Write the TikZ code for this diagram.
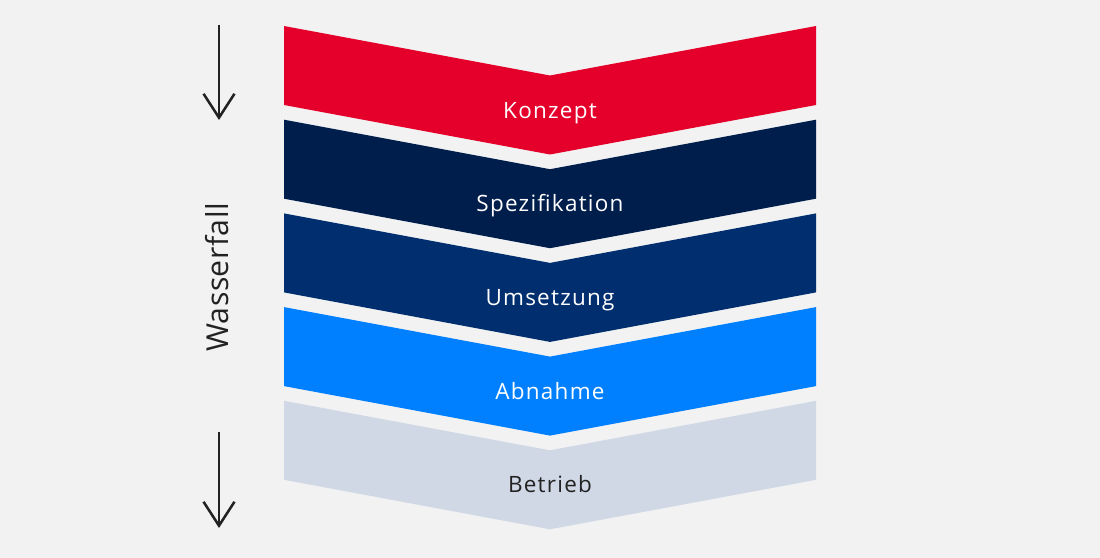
\documentclass[tikz,border=0pt]{standalone}
\usepackage{fontspec}
\setmainfont{Open Sans}
\usetikzlibrary{arrows.meta}
\definecolor{grund}{HTML}{F2F2F2}
\definecolor{konzeptrot}{HTML}{E4002B}
\definecolor{spezblau}{HTML}{001E4C}
\definecolor{umsblau}{HTML}{002E6E}
\definecolor{abnblau}{HTML}{0080FF}
\definecolor{betrgrau}{HTML}{D0D8E6}
\definecolor{schrift}{HTML}{222222}
% one chevron: name, top y, fill, text colour, label
\def\phase#1#2#3#4#5{\fill[#3] (284,#2) -- (550,#2+49.5) -- (816,#2) -- (816,#2+79) -- (550,#2+128.5) -- (284,#2+79) -- cycle;
\node[phasetext, text=#4] (#1) at (550,#2+92) {#5};}

\begin{document}
\begin{tikzpicture}[x=0.025cm, y=-0.025cm,
	phasetext/.style={anchor=base, inner sep=0pt, font=\fontsize{16}{19}\selectfont\addfontfeature{LetterSpace=5.5}},
	fallpfeil/.style={line width=1.8pt, color=schrift, -{Straight Barb[length=17pt, width=22pt, line width=1.8pt]}}]
			%%%%% START %%%%%
			
			\fill[grund] (0,0) rectangle (1100,558);
			\useasboundingbox (0,0) rectangle (1100,558);
			
			\phase{konzept}{26}{konzeptrot}{white}{Konzept}
			\phase{spezifikation}{119.7}{spezblau}{white}{Spezifikation}
			\phase{umsetzung}{213.4}{umsblau}{white}{Umsetzung}
			\phase{abnahme}{307.1}{abnblau}{white}{Abnahme}
			\phase{betrieb}{400.8}{betrgrau}{schrift}{Betrieb}
			
			\node[rotate=90, anchor=base, inner sep=0pt, text=schrift, font=\fontsize{21.5}{26}\selectfont\addfontfeature{LetterSpace=1.5}] (wasserfall) at (228, 277.5) {Wasserfall};
			
			\coordinate (pfeil1a) at (219, 25);
			\coordinate (pfeil1b) at (219, 120);
			\coordinate (pfeil2a) at (219, 432);
			\coordinate (pfeil2b) at (219, 528);
			\draw[fallpfeil] (pfeil1a) -- (pfeil1b);
			\draw[fallpfeil] (pfeil2a) -- (pfeil2b);
			
			%%%%% END %%%%%
\end{tikzpicture}
\end{document}
